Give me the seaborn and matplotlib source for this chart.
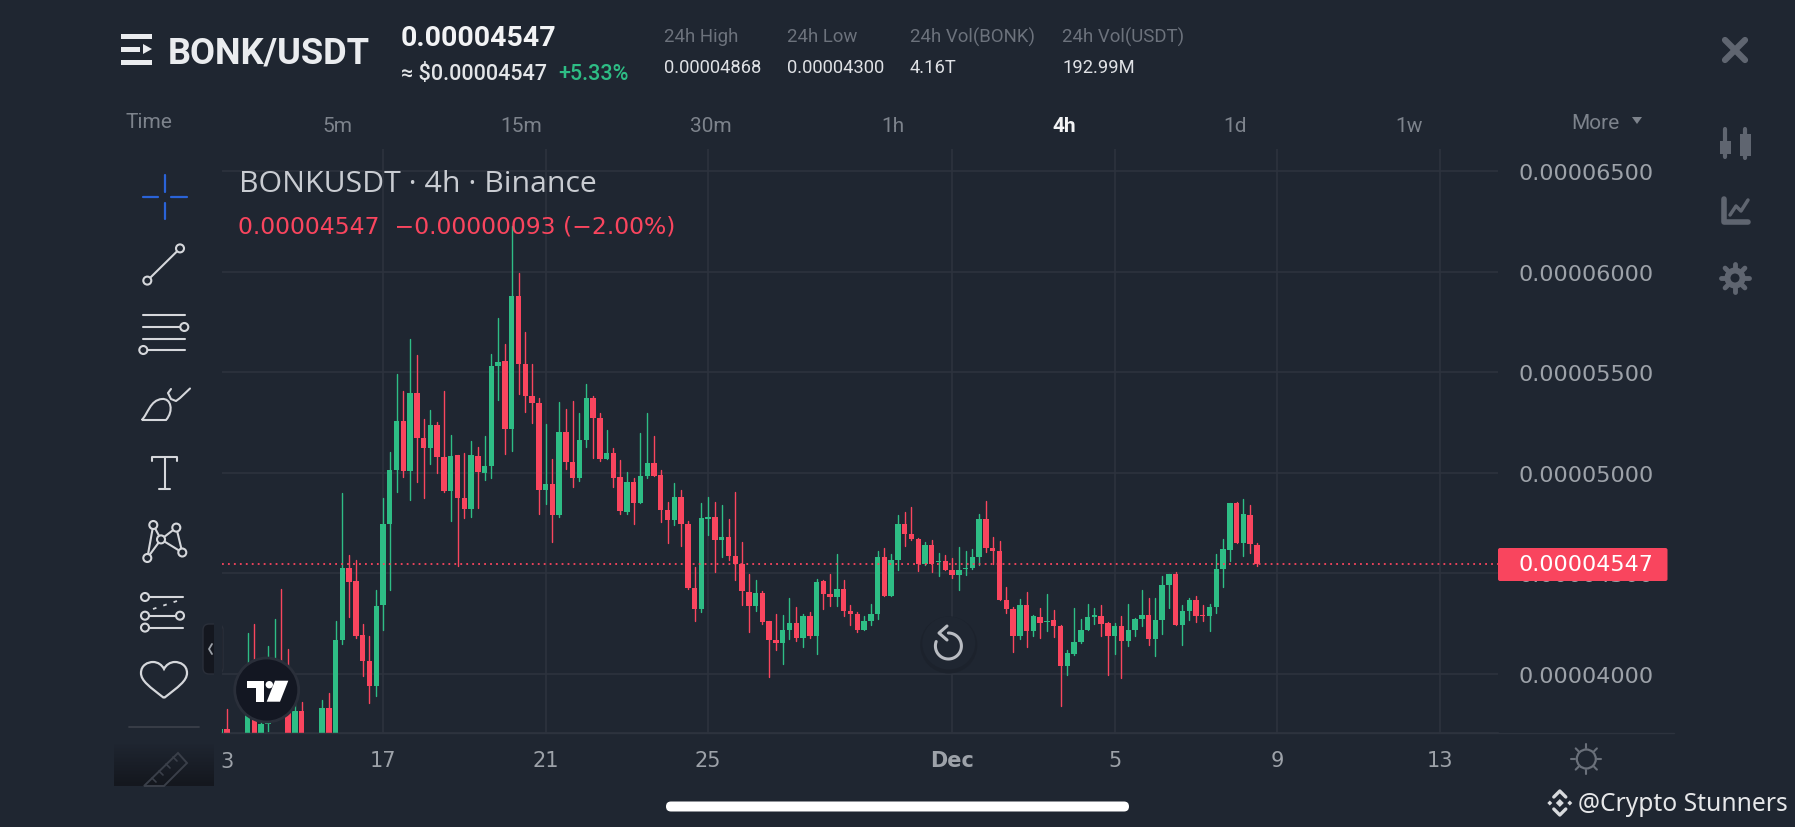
import numpy as np
import pandas as pd
import matplotlib
matplotlib.use("Agg")
import matplotlib.pyplot as plt
import seaborn as sns
from matplotlib.patches import Circle, FancyBboxPatch, PathPatch, Polygon, Rectangle
from matplotlib.path import Path

# prices are in units of 0.00000001 USDT, one bar every 4h, bar 0 = Nov 17 00:00
bar_open = [3690, 3724, 3660, 3640, 3690, 3785, 3700, 3748, 3900, 4020, 3818, 3690, 3815, 3650, 3630, 3680, 3831, 3690,
            4166, 4525, 4460, 4190, 4061, 3941, 4340, 4742, 5013, 5258, 5007, 5396, 5171, 5123, 5237, 5080, 4909,
            5088, 4874, 4820, 5085, 4998, 5033, 5530, 5553, 5217, 5878, 5541, 5381, 5346, 4914, 4944, 4787, 5202,
            5051, 4974, 5161, 5369, 5270, 5068, 5098, 4977, 4806, 4955, 4849, 4984, 5050, 4989, 4813, 4765, 4881,
            4745, 4427, 4320, 4770, 4778,
            4667, 4678, 4585, 4547, 4406, 4335, 4401, 4260, 4170, 4155, 4215, 4252, 4179, 4286, 4189, 4462, 4396,
            4379, 4421, 4313, 4295, 4217, 4262, 4295, 4580, 4386, 4564, 4746, 4695, 4672, 4545, 4642, 4554, 4560,
            4517, 4492, 4522, 4527, 4582, 4771, 4627, 4610, 4366, 4323, 4189, 4341, 4210, 4283, 4255, 4267, 4237,
            4037, 4099, 4157, 4218, 4280, 4288, 4253, 4185, 4238, 4164, 4218, 4270, 4293, 4172, 4268, 4439, 4497,
            4242, 4311, 4368, 4290, 4285, 4333, 4519, 4617, 4851, 4648, 4791, 4640]
bar_high = [3724, 3826, 3680, 3670, 4202, 4245, 3793, 4136, 4270, 4422, 4124, 3859, 3859, 3680, 3670, 3868, 3904, 4262,
            4899, 4591, 4566, 4247, 4187, 4416, 4873, 5101, 5490, 5407, 5664, 5585, 5267, 5313, 5250, 5404, 5189,
            5088, 5098, 5159, 5126, 5184, 5591, 5767, 5642, 6227, 5993, 5700, 5538, 5369, 5240, 5068, 5349, 5315,
            5358, 5298, 5442, 5383, 5295, 5212, 5124, 5061, 5002, 4972, 5195, 5298, 5181, 5015, 4853, 4947, 4914,
            4757, 4533, 4848, 4878, 4856,
            4838, 4771, 4904, 4655, 4497, 4467, 4411, 4262, 4296, 4293, 4376, 4333, 4298, 4306, 4471, 4466, 4494,
            4597, 4466, 4341, 4308, 4286, 4345, 4612, 4625, 4597, 4791, 4804, 4829, 4675, 4655, 4663, 4599, 4592,
            4577, 4630, 4610, 4622, 4793, 4858, 4678, 4658, 4429, 4333, 4373, 4406, 4293, 4328, 4394, 4315, 4240,
            4117, 4328, 4273, 4346, 4328, 4341, 4257, 4252, 4285, 4345, 4278, 4418, 4376, 4378, 4484, 4497, 4506,
            4343, 4376, 4388, 4340, 4346, 4595, 4672, 4851, 4854, 4869, 4841, 4650]
bar_low = [3680, 3680, 3620, 3600, 3670, 3660, 3680, 3680, 3800, 3790, 3670, 3670, 3670, 3610, 3600, 3660, 3670, 3670,
           4146, 4282, 4179, 3989, 3854, 3888, 4215, 4414, 4902, 4980, 4864, 4952, 4874, 5043, 4997, 4902, 4757,
           4535, 4775, 4778, 4826, 4965, 4972, 5361, 5091, 5109, 5391, 5303, 5247, 4796, 4844, 4657, 4778, 5018,
           4929, 4960, 5126, 5071, 5058, 5068, 4927, 4795, 4795, 4742, 4849, 4972, 4982, 4752, 4651, 4740, 4634,
           4419, 4262, 4306, 4691, 4505,
           4580, 4567, 4464, 4340, 4207, 4311, 4245, 3983, 4120, 4046, 4174, 4165, 4135, 4179, 4099, 4323, 4335,
           4336, 4286, 4243, 4207, 4217, 4240, 4273, 4386, 4384, 4517, 4633, 4663, 4511, 4542, 4506, 4484, 4514,
           4476, 4414, 4492, 4522, 4539, 4607, 4545, 4365, 4303, 4110, 4174, 4135, 4185, 4179, 4213, 4180, 3837,
           3991, 4091, 4154, 4215, 4245, 4185, 3991, 4099, 3979, 4140, 4187, 4237, 4145, 4086, 4197, 4328, 4242,
           4145, 4265, 4258, 4260, 4213, 4301, 4433, 4559, 4648, 4584, 4602, 4535]
bar_close = [3724, 3690, 3640, 3650, 3806, 3680, 3752, 3768, 4020, 3880, 3690, 3815, 3690, 3630, 3660, 3831, 3690, 4167,
             4525, 4455, 4187, 4061, 3941, 4336, 4742, 5013, 5258, 5007, 5396, 5171, 5123, 5235, 5080, 4911, 5085,
             4874, 4820, 5088, 5002, 5032, 5532, 5550, 5217, 5876, 5541, 5381, 5344, 4914, 4944, 4787, 5202, 5051,
             4974, 5161, 5369, 5270, 5068, 5098, 4975, 4808, 4954, 4849, 4984, 5050, 4985, 4813, 4762, 4881, 4742,
             4426, 4323, 4773, 4777, 4667,
             4678, 4584, 4547, 4409, 4335, 4401, 4257, 4170, 4155, 4215, 4252, 4179, 4285, 4189, 4457, 4396, 4379,
             4421, 4311, 4295, 4215, 4263, 4295, 4580, 4388, 4564, 4746, 4693, 4672, 4545, 4642, 4547, 4559, 4517,
             4491, 4517, 4527, 4582, 4771, 4627, 4610, 4365, 4320, 4189, 4341, 4210, 4286, 4253, 4262, 4237, 4037,
             4101, 4159, 4218, 4280, 4293, 4245, 4185, 4238, 4164, 4218, 4273, 4293, 4172, 4268, 4443, 4497, 4242,
             4311, 4368, 4286, 4285, 4333, 4519, 4618, 4851, 4648, 4794, 4643, 4547]
first_bar = -24
last_price = 4547

date_ticks = [0, 24, 48, 84, 108, 132, 156]
date_labels = ["17", "21", "25", "Dec", "5", "9", "13"]
price_ticks = [4000, 4500, 5000, 5500, 6000, 6500]
price_labels = ["0.00004000", "0.00004500", "0.00005000", "0.00005500", "0.00006000", "0.00006500"]
intervals = ["5m", "15m", "30m", "1h", "4h", "1d", "1w"]
interval_x = [337, 521, 711, 893, 1064, 1235, 1409]

BG = "#1f2631"
GRID = "#2d333e"
UP = "#2ebd85"
DOWN = "#f9455e"
AXIS_TXT = "#9da2a9"
DIM = "#6c727c"
ICON = "#d5d7db"

sns.set_theme(style="darkgrid", rc={"figure.facecolor": BG, "axes.facecolor": BG, "grid.color": GRID,
                                    "grid.linewidth": 1.0, "axes.edgecolor": GRID})
plt.rcParams["font.family"] = ["DejaVu Sans"]

df = pd.DataFrame({"open": bar_open, "high": bar_high, "low": bar_low, "close": bar_close})
df["bar"] = np.arange(len(df)) + first_bar
df["side"] = np.where(df["close"] >= df["open"], "up", "down")
df["body_low"] = df[["open", "close"]].min(axis=1)
df["body"] = (df["open"] - df["close"]).abs()

W, H = 1795, 828
fig = plt.figure(figsize=(W / 100, H / 100), dpi=100)
ax = fig.add_axes([222 / W, 1 - 734 / H, 1276 / W, 584 / H])

# wicks
wicks = df.melt(id_vars=["bar", "side"], value_vars=["high", "low"], value_name="price")
sns.lineplot(data=wicks, x="bar", y="price", hue="side", units="bar", estimator=None, sort=False,
             palette={"up": UP, "down": DOWN}, legend=False, linewidth=1.0, ax=ax)

# candle bodies
for side, color in [("up", UP), ("down", DOWN)]:
    part = df[df["side"] == side].sort_values("bar")
    sns.barplot(data=part, x="bar", y="body", bottom=part["body_low"].to_numpy(), native_scale=True, color=color,
                saturation=1, width=0.8, errorbar=None, linewidth=0, ax=ax, zorder=3)

ax.axhline(last_price, color=DOWN, linestyle=(0, (1, 2.3)), linewidth=1.3, zorder=4)

ax.set_xlim((222 - 383) / 6.775, (1498 - 383) / 6.775)
ax.set_ylim(3705, 6609.4)
ax.set_xticks(date_ticks, date_labels)
ax.set_yticks(price_ticks, price_labels)
ax.yaxis.tick_right()
ax.tick_params(axis="both", length=0, colors=AXIS_TXT)
ax.tick_params(axis="y", labelsize=16, pad=15)
ax.tick_params(axis="x", labelsize=15, pad=12)
ax.get_xticklabels()[3].set_fontweight("bold")
ax.set_xlabel("")
ax.set_ylabel("")
ax.grid(True, color=GRID, linewidth=1.2)
ax.set_axisbelow(True)
for s in ["top", "left", "right"]:
    ax.spines[s].set_visible(False)
ax.spines["bottom"].set_color(GRID)

# everything around the chart lives on a pixel-sized overlay
ui = fig.add_axes([0, 0, 1, 1], zorder=5)
ui.patch.set_alpha(0)
ui.axis("off")


def txt(x, y, s, color=AXIS_TXT, size=14, ha="left", weight="normal", family="Roboto"):
    ui.text(x, y, s, color=color, fontsize=size, ha=ha, va="center", fontweight=weight, family=family)


def ln(xs, ys, color=ICON, lw=1.5, **kw):
    ui.plot(xs, ys, color=color, lw=lw, solid_capstyle="round", **kw)


def ring(x, y, r, color=ICON, lw=1.5, fc=BG):
    ui.add_patch(Circle((x, y), r, fc=fc, ec=color, lw=lw, zorder=4))


# header
for yy in [37, 63]:
    ui.add_patch(Rectangle((121, yy - 2.5), 31, 5, color="#eaecef", lw=0))
ui.add_patch(Polygon([(121, 47.5), (140, 47.5), (140, 52.5), (121, 52.5)], color="#eaecef", lw=0))
ui.add_patch(Polygon([(143, 45), (152, 50), (143, 55)], color="#eaecef", lw=0))
txt(168, 53, "BONK/USDT", "#eaecef", 26.1, weight="bold")
txt(401, 39, "0.00004547", "#f2f3f5", 20.5, weight="bold")
txt(401, 74, "≈ $0.00004547", "#e3e5e8", 15.5, weight="medium")
txt(558, 74, "+5.33%", UP, 15.5, weight="medium")
for x, head, val in [(664, "24h High", "0.00004868"), (787, "24h Low", "0.00004300"),
                     (910, "24h Vol(BONK)", "4.16T"), (1062, "24h Vol(USDT)", "192.99M")]:
    txt(x, 37, head, DIM, 13.4)
    txt(x, 68, val, "#dfe1e5", 13.2)

ln([1725, 1745], [41, 61], "#5f6570", 4.5)
ln([1745, 1725], [41, 61], "#5f6570", 4.5)

# interval row
txt(125.5, 123, "Time", "#7d838c", 15)
for x, s in zip(interval_x, intervals):
    if s == "4h":
        txt(x, 126, s, "#f2f3f5", 15, ha="center", weight="bold")
    else:
        txt(x, 126, s, "#7d838c", 15, ha="center")
txt(1595, 123.5, "More", "#7d838c", 15, ha="center")
ui.add_patch(Polygon([(1632, 118), (1642, 118), (1637, 125)], color="#7d838c", lw=0))

# chart legend
txt(239, 185, "BONKUSDT · 4h · Binance", "#c9ccd2", 21.8, family="Open Sans")
txt(238, 227, "0.00004547  −0.00000093 (−2.00%)", DOWN, 16.9, family="DejaVu Sans")

# price tag and axis line
ui.add_patch(FancyBboxPatch((1498, 549), 169.5, 33, boxstyle="round,pad=0,rounding_size=2", color=DOWN, lw=0))
txt(1519, 565, "0.00004547", "white", 16, family="DejaVu Sans")
ln([222, 1674], [734, 734], GRID, 1.0)
txt(226.5, 762, "3", AXIS_TXT, 15, ha="center", family="DejaVu Sans")

# left toolbar
BLUE = "#2a63d8"
ln([143, 158], [197.5, 197.5], BLUE, 1.6)
ln([171, 187], [197.5, 197.5], BLUE, 1.6)
ln([164.7, 164.7], [176, 192.5], BLUE, 1.6)
ln([164.7, 164.7], [204, 219.5], BLUE, 1.6)

ln([147.3, 180], [281.6, 249.4])
ring(147.3, 281.6, 4)
ring(180, 249.4, 4)

for yy in [316.3, 328.2, 339.6, 351]:
    ln([143, 185], [yy, yy])
ring(184.3, 328, 4)
ring(143.3, 351, 4)

leaf = Path([(141.7, 421), (148, 415), (150, 401), (162, 400), (171, 399), (174, 412), (166, 421), (141.7, 421)],
            [Path.MOVETO, Path.CURVE4, Path.CURVE4, Path.CURVE4, Path.CURVE4, Path.CURVE4, Path.CURVE4, Path.LINETO])
ui.add_patch(PathPatch(leaf, fc="none", ec=ICON, lw=1.5))
ln([171, 168, 171, 176, 180, 190], [390, 394, 400, 402, 399, 389.5])

ln([152, 152, 177, 177], [462, 458, 458, 462])
ln([164.5, 164.5], [458, 490])
ln([159, 170], [490, 490])

pts = [(153.3, 526), (176.3, 528.6), (161, 540.4), (182.3, 553.5), (147.3, 559)]
for a, b in [(0, 2), (2, 1), (1, 3), (2, 3), (0, 4), (2, 4)]:
    ln([pts[a][0], pts[b][0]], [pts[a][1], pts[b][1]])
for p in pts:
    ring(p[0], p[1], 4)

ln([145, 183], [598, 598])
ln([145, 180], [616.7, 616.7])
ln([145, 183], [628.6, 628.6])
ln([153, 180], [610, 601], ICON, 1.3, linestyle=(0, (2, 4)))
ring(145, 598, 4)
ring(145, 616.7, 4)
ring(145, 628.6, 4)
ring(180, 616.7, 4)

heart = Path([(164, 699), (150, 688), (141, 682), (141, 674), (141, 666), (148, 663), (153, 663), (158, 663),
              (162, 666), (164, 670), (166, 666), (170, 663), (175, 663), (180, 663), (187, 666), (187, 674),
              (187, 682), (178, 688), (164, 699)], [Path.MOVETO] + [Path.CURVE4] * 18)
ui.add_patch(PathPatch(heart, fc="none", ec=ICON, lw=1.6))

ln([129, 198.7], [728, 728], "#3a3f49", 1.3)
ui.add_patch(FancyBboxPatch((203, 625), 20, 50, boxstyle="round,pad=0,rounding_size=6", fc="#14171f", ec="#2a2f3a",
                            lw=1))
ui.add_patch(Rectangle((214, 620), 8, 60, color=BG, lw=0))
ln([212, 209, 212], [645, 650, 655], "#9da2a9", 1.3)

# ruler box
fade = np.linspace(0, 1, 30).reshape(-1, 1, 1) * np.array([[[0x14 - 0x1f, 0x17 - 0x26, 0x1e - 0x31]]]) + np.array(
    [[[0x1f, 0x26, 0x31]]])
ui.imshow(fade.astype(np.uint8), extent=(114, 214, 787, 744), aspect="auto", zorder=1)
ui.add_patch(Polygon([(144, 787), (178, 754), (187, 764), (164, 787)], fc="none", ec="#3a3f49", lw=1.4, zorder=2))
for x0, y0 in [(152, 779), (159, 772), (166, 765), (173, 758)]:
    ln([x0, x0 + 4], [y0, y0 + 4], "#3a3f49", 1.2, zorder=2)

# tradingview badge
ring(266.7, 691, 32, "#2a2f3a", 2, "#131722")
ui.add_patch(Polygon([(246.7, 681.7), (264.3, 681.7), (264.3, 702.7), (256, 702.7), (256, 689), (246.7, 689)],
                     color="white", lw=0, zorder=5))
ui.add_patch(Circle((269.3, 685.7), 3.7, color="white", lw=0, zorder=5))
ui.add_patch(Polygon([(275, 681.7), (288.3, 681.7), (280, 702.7), (266.7, 702.7)], color="white", lw=0, zorder=5))

# reset button
ui.add_patch(Circle((948.8, 646), 28.5, color="#1c222c", lw=0))
ui.add_patch(Circle((948.8, 644), 26.5, color="#1f2631", lw=0))
t = np.radians(np.linspace(-90, 200, 60))
ln(948.4 + 13 * np.cos(t), 647 + 13 * np.sin(t), "#b9bcc2", 2.2)
ln([947, 939, 947], [627, 634, 641], "#b9bcc2", 2.2)

# right icons
for x, top, bot, b0, b1 in [(1725, 130, 158, 142, 155), (1745, 130, 159, 135, 157)]:
    ln([x, x], [top, bot], "#5f6570", 3)
    ui.add_patch(Rectangle((x - 5.5, b0), 11, b1 - b0, color="#5f6570", lw=0))
ln([1724, 1724, 1748], [200, 223, 223], "#5f6570", 4)
ln([1730, 1736, 1741, 1748], [216, 207, 212, 201], "#5f6570", 2.5)
ui.add_patch(Circle((1735, 279), 10.5, color="#5f6570", lw=0))
for a in np.radians(np.arange(0, 360, 45)):
    ln([1735 + 9 * np.cos(a), 1735 + 14 * np.cos(a)], [279 + 9 * np.sin(a), 279 + 14 * np.sin(a)], "#5f6570", 3.5)
ui.add_patch(Circle((1735, 279), 4.5, color=BG, lw=0, zorder=4))

# sun icon
ui.add_patch(Circle((1586.3, 760), 9.5, fc="none", ec="#6a707a", lw=1.6))
for a in np.radians(np.arange(0, 360, 45)):
    ln([1586.3 + 11 * np.cos(a), 1586.3 + 15 * np.cos(a)], [760 + 11 * np.sin(a), 760 + 15 * np.sin(a)], "#6a707a", 1.5)

# home bar and watermark
ui.add_patch(FancyBboxPatch((666, 802.5), 463, 10, boxstyle="round,pad=0,rounding_size=5", color="white", lw=0))
txt(1577.5, 805, "@Crypto Stunners", "#e6e7e9", 17.7, family="Noto Sans")
cx, cy = 1559.8, 804
ui.add_patch(Polygon([(cx, cy - 4), (cx + 4, cy), (cx, cy + 4), (cx - 4, cy)], color="#d8dadd", lw=0))
for dx in [-10, 10]:
    ui.add_patch(Polygon([(cx + dx, cy - 2.5), (cx + dx + 2.5, cy), (cx + dx, cy + 2.5), (cx + dx - 2.5, cy)],
                         color="#d8dadd", lw=0))
ln([cx - 6, cx, cx + 6], [cy - 6, cy - 12, cy - 6], "#d8dadd", 2.4)
ln([cx - 6, cx, cx + 6], [cy + 6, cy + 12, cy + 6], "#d8dadd", 2.4)

ui.set_xlim(0, W)
ui.set_ylim(H, 0)

fig.savefig("out.png", dpi=100, facecolor=BG)
